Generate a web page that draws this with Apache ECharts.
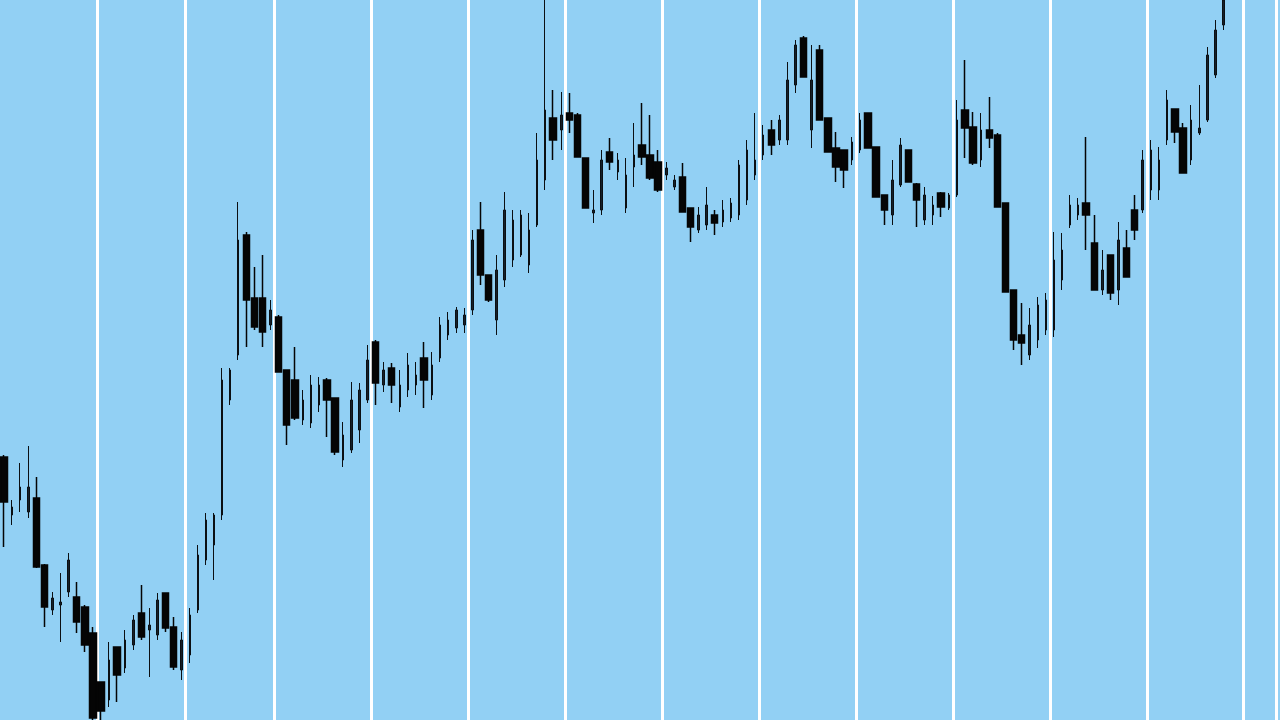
<!DOCTYPE html>
<html>
<head>
<meta charset="utf-8">
<script src="https://cdn.jsdelivr.net/npm/echarts/dist/echarts.min.js"></script>
<style>
html,body{margin:0;padding:0;background:#92d0f4;}
#chart{width:1280px;height:720px;}
</style>
</head>
<body>
<div id="chart"></div>
<script>
// Candle values (price units), one entry per bar slot
const openVals = [263,205,220,208,222,155,110,115,128,123,113,87,
  38,20,73,52,75,107,90,85,127,93,50,
  65,110,160,175,205,320,365,485,422,422,395,
  403,350,340,300,297,315,340,322,260,270,290,320,
  378,335,352,313,330,335,362,325,362,385,392,395,
  410,490,445,400,440,460,465,455,495,540,602,590,
  607,605,562,507,510,568,548,512,553,575,565,558,
  545,533,543,512,490,495,505,498,502,505,520,545,
  565,590,580,580,635,682,590,670,602,572,570,560,
  570,607,573,525,505,535,570,536,500,505,527,512,
  525,610,593,560,590,585,517,430,385,365,380,390,
  390,440,495,505,517,477,430,465,430,472,510,510,
  530,530,580,611,592,560,587,600,645,695];
const closeVals = [218,213,233,233,153,113,122,118,160,98,75,2,
  9,60,45,80,100,83,95,120,92,53,80,
  105,165,200,205,340,350,480,420,393,388,410,
  348,295,302,320,335,335,320,268,285,320,330,360,
  337,350,335,335,355,345,340,355,395,400,410,405,
  480,445,420,450,510,500,505,490,560,610,580,605,
  600,563,512,510,560,558,560,545,565,563,542,530,
  552,540,508,493,505,515,497,510,517,555,570,560,
  585,575,600,640,675,643,640,600,568,553,550,578,
  600,572,523,510,540,575,538,520,525,515,513,525,
  600,592,557,590,582,513,428,380,377,395,415,420,
  460,470,515,515,505,430,450,427,480,443,490,560,
  570,560,620,588,547,600,592,665,690,720];
const lowVals = [173,195,208,202,152,93,105,78,123,87,68,0,
  0,13,18,47,70,80,43,80,88,50,40,
  57,107,155,140,200,315,360,373,390,373,390,
  348,275,300,295,292,308,283,265,253,267,277,317,
  315,328,317,308,323,325,312,320,358,380,387,387,
  405,435,418,385,433,453,463,447,493,530,560,570,
  587,563,512,497,505,550,540,507,533,555,540,528,
  540,530,508,478,487,490,485,493,498,500,515,540,
  560,565,575,575,627,643,572,600,568,538,532,555,
  567,572,523,495,495,533,538,493,495,495,503,510,
  523,562,555,553,572,513,428,370,355,360,372,385,
  383,430,492,500,470,430,425,420,415,443,480,507,
  520,520,575,577,547,555,585,598,642,690];
const highVals = [265,220,257,274,243,156,128,147,167,138,115,93,
  38,78,73,90,105,135,112,127,127,103,88,
  112,175,207,207,352,352,518,488,453,465,420,
  405,350,373,330,345,343,342,322,298,338,337,375,
  380,358,357,350,367,358,378,368,403,408,413,412,
  490,518,445,465,528,510,510,507,587,720,630,628,
  627,607,562,530,570,582,567,562,597,617,605,570,
  558,545,557,512,513,533,510,520,522,560,580,607,
  595,600,605,658,680,684,675,675,602,588,570,583,
  607,607,573,525,560,582,570,537,533,524,528,527,
  620,660,608,607,623,587,517,430,417,412,423,427,
  488,487,525,522,583,505,470,465,498,490,525,570,
  580,573,630,611,597,615,635,673,700,730];
const slotCount = 158;
const separators = [12,23,34,46,58,70,82,94,106,118,130,142,154];

const categories = [];
for (let i = 0; i < slotCount; i++) categories.push(String(i));

const upData = [], downData = [];
for (let i = 0; i < slotCount; i++) {
  if (i >= openVals.length) { upData.push('-'); downData.push('-'); continue; }
  const item = [openVals[i], closeVals[i], lowVals[i], highVals[i]];
  if (closeVals[i] < openVals[i]) { downData.push(item); upData.push('-'); }
  else { upData.push(item); downData.push('-'); }
}

const chart = echarts.init(document.getElementById('chart'), null, {renderer: 'canvas'});
chart.setOption({
  animation: false,
  backgroundColor: '#92d0f4',
  grid: {left: 0, right: 4, top: 0, bottom: 0, containLabel: false},
  xAxis: {
    type: 'category',
    data: categories,
    boundaryGap: true,
    axisLine: {show: false},
    axisTick: {show: false},
    axisLabel: {show: false},
    splitLine: {
      show: true,
      interval: function (idx) { return separators.indexOf(idx) >= 0; },
      lineStyle: {color: '#ffffff', width: 3}
    }
  },
  yAxis: {
    type: 'value',
    min: 0,
    max: 720,
    show: false,
    splitLine: {show: false}
  },
  series: [
    {
      type: 'candlestick',
      name: 'up',
      data: upData,
      barWidth: 2,
      itemStyle: {
        color: '#14202a', borderColor: '#0b0f12', borderWidth: 1,
        color0: '#14202a', borderColor0: '#0b0f12'
      }
    },
    {
      type: 'candlestick',
      name: 'down',
      data: downData,
      barWidth: 7,
      itemStyle: {
        color: '#050505', borderColor: '#050505', borderWidth: 1.5,
        color0: '#050505', borderColor0: '#050505'
      }
    }
  ]
});
</script>
</body>
</html>
